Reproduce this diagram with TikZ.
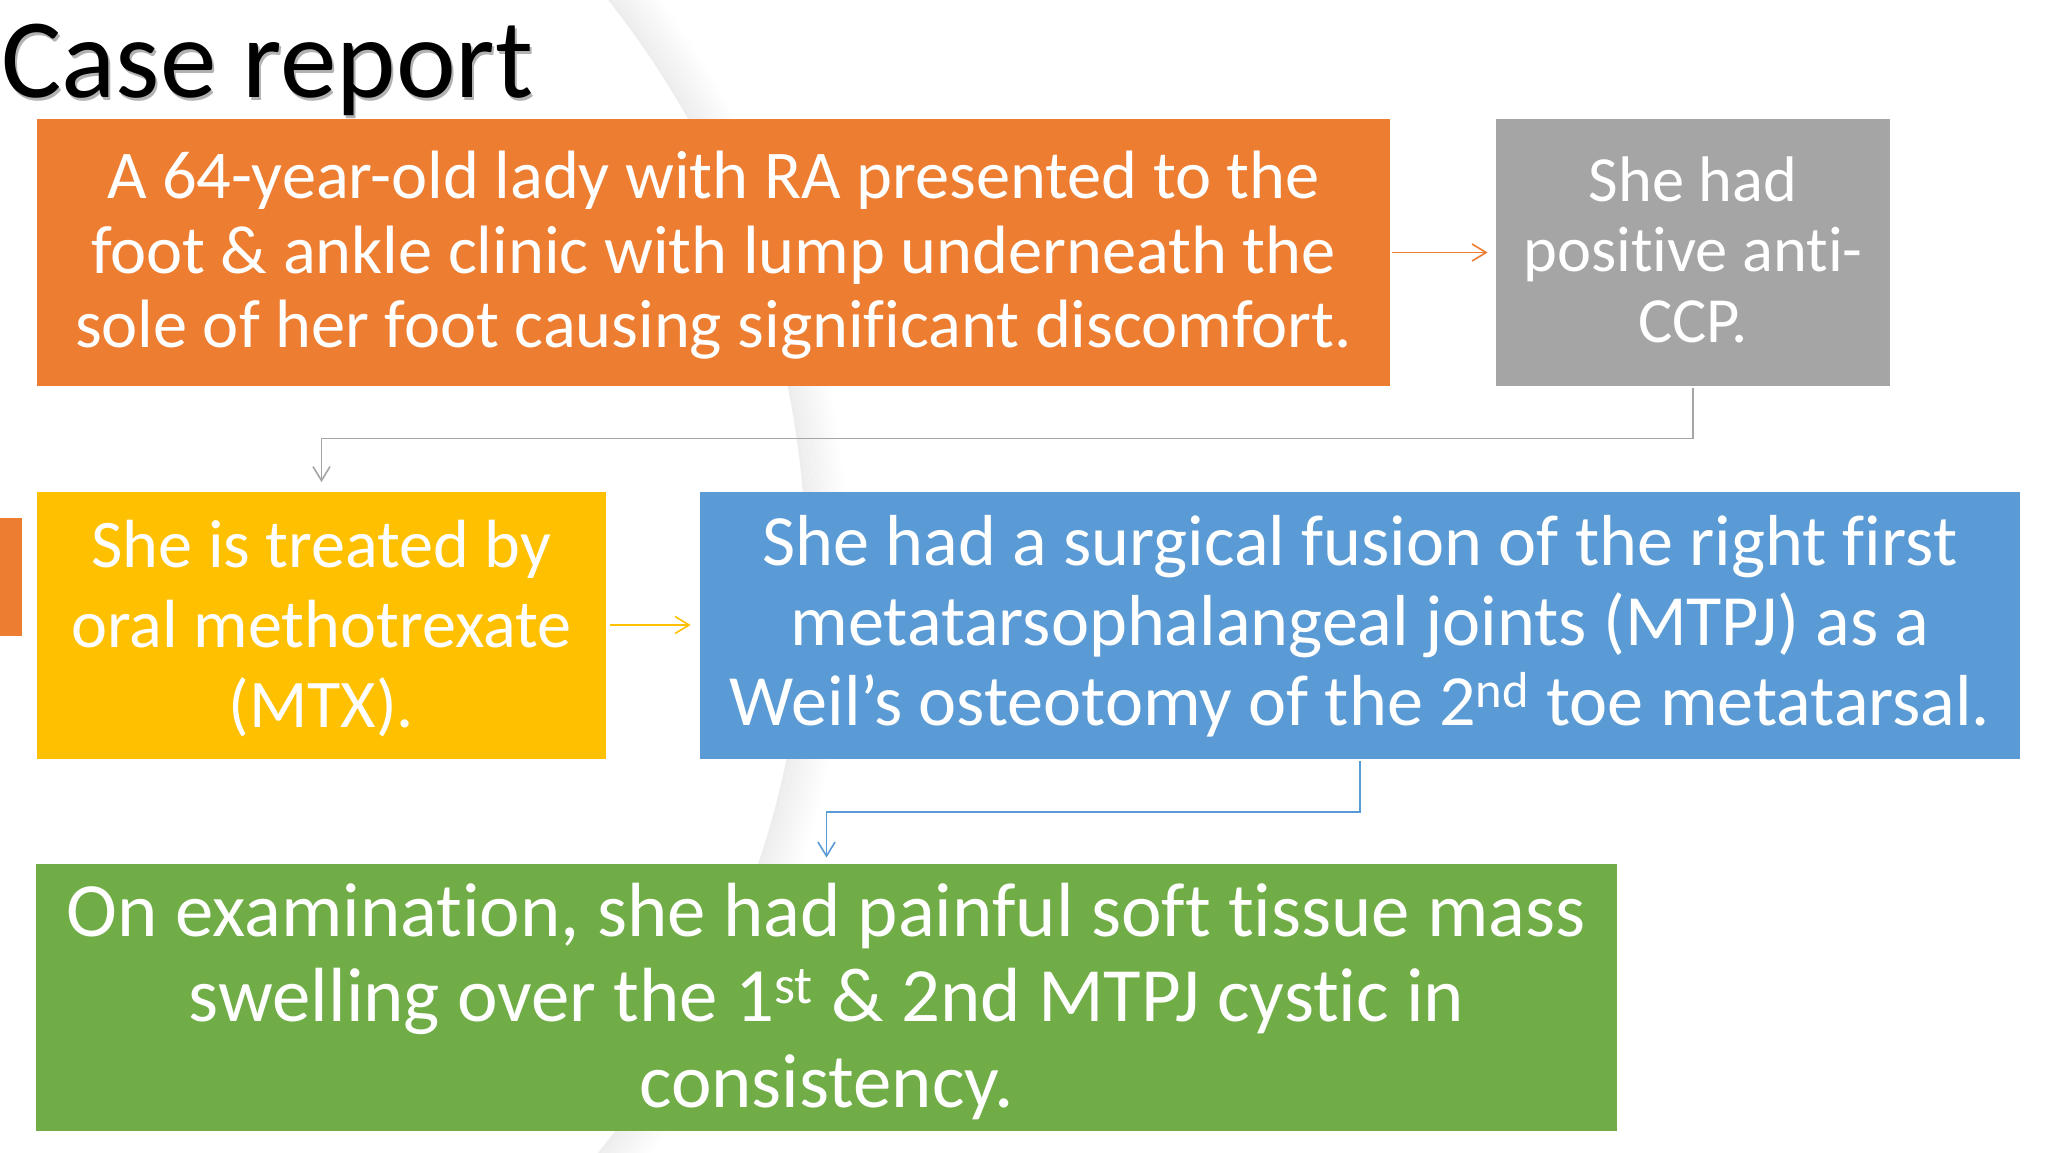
\documentclass[tikz,border=0pt]{standalone}
\usepackage{fontspec}
\setmainfont{Carlito}[Ligatures={TeX,NoCommon}]
\usetikzlibrary{arrows.meta}
\definecolor{cOrange}{HTML}{ED7D31}
\definecolor{cGray}{HTML}{A5A5A5}
\definecolor{cYellow}{HTML}{FFC000}
\definecolor{cBlue}{HTML}{5B9BD5}
\definecolor{cGreen}{HTML}{70AD47}
\begin{document}
\begin{tikzpicture}[x=0.5pt,y=-0.5pt,
  boxstyle/.style={draw=none, inner sep=0pt, minimum height=133.5pt},
  txt/.style={inner sep=0pt, text=white, align=center},
  conn/.style={line width=0.8pt, -{Straight Barb[length=7pt,width=8.5pt,line width=0.8pt]}},
  fsA/.style={font=\fontsize{34.2pt}{37.3pt}\selectfont},
  fsC/.style={font=\fontsize{32.2pt}{35.2pt}\selectfont},
  fsY/.style={font=\fontsize{34.1pt}{40pt}\selectfont},
  fsB/.style={font=\fontsize{36.1pt}{40pt}\selectfont},
  fsG/.style={font=\fontsize{38.4pt}{42.75pt}\selectfont},
  titlestyle/.style={inner sep=0pt, anchor=base west, font=\fontsize{56.6pt}{60pt}\selectfont}
]
\useasboundingbox (0,0) rectangle (2048,1152);
\fill[white] (0,0) rectangle (2048,1152);
% background arc shadow
\begin{scope}
\clip (0,0) rectangle (2048,1152);
\foreach \i in {0,...,11}{
  \pgfmathsetmacro{\cc}{7*(1-\i/12)}
  \pgfmathsetmacro{\rr}{(920+3.5*\i+1.75)*0.5}
  \draw[line width=1.75pt, color=black!\cc] (-114,570) circle[radius=\rr pt];
}
\end{scope}
% title
\node[titlestyle, text=black!30] (titleshadow) at (3,100) {Case report};
\node[titlestyle, text=black] (title) at (1,97) {Case report};
% side tab
\fill[cOrange] (0,518) rectangle (22,636);
% boxes
\node[boxstyle, fill=cOrange, minimum width=676.5pt] (orange) at (713.5,252.5) {};
\node[boxstyle, fill=cGray, minimum width=197pt] (gray) at (1693,252.5) {};
\node[boxstyle, fill=cYellow, minimum width=284.5pt] (yellow) at (321.5,625) {};
\node[boxstyle, fill=cBlue, minimum width=660pt] (blue) at (1360,625) {};
\node[boxstyle, fill=cGreen, minimum width=790.5pt] (green) at (826.5,997.5) {};
% texts
\node[txt, fsA] (orangetext) at ([yshift=-1.5pt]orange.center)
  {A 64-year-old lady with RA presented to the\\foot \& ankle clinic with lump underneath the\\sole of her foot causing significant discomfort.};
\node[txt, fsC] (graytext) at ([yshift=1.5pt]gray.center)
  {She had\\positive anti-\\CCP.};
\node[txt, fsY] (yellowtext) at ([yshift=-2pt]yellow.center)
  {She is treated by\\oral methotrexate\\(MTX).};
\node[txt, fsB] (bluetext) at ([yshift=-0.5pt]blue.center)
  {She had a surgical fusion of the right first\\metatarsophalangeal joints (MTPJ) as a\\Weil’s osteotomy of the 2\textsuperscript{nd} toe metatarsal.};
\node[txt, fsG] (greentext) at ([yshift=-2pt]green.center)
  {On examination, she had painful soft tissue mass\\swelling over the 1\textsuperscript{st} \& 2nd MTPJ cystic in\\consistency.};
% connectors
\draw[conn, cOrange, shorten <=1pt, shorten >=4pt] (orange) -- (gray);
\draw[conn, cGray, shorten <=1pt, shorten >=4.5pt] (gray.south) -- ++(0,52) -| (yellow.north);
\draw[conn, cYellow, shorten <=2pt, shorten >=4.5pt] (yellow) -- (blue);
\draw[conn, cBlue, shorten <=1pt, shorten >=3pt] (blue.south) -- ++(0,53) -| (green.north);
\end{tikzpicture}
\end{document}
